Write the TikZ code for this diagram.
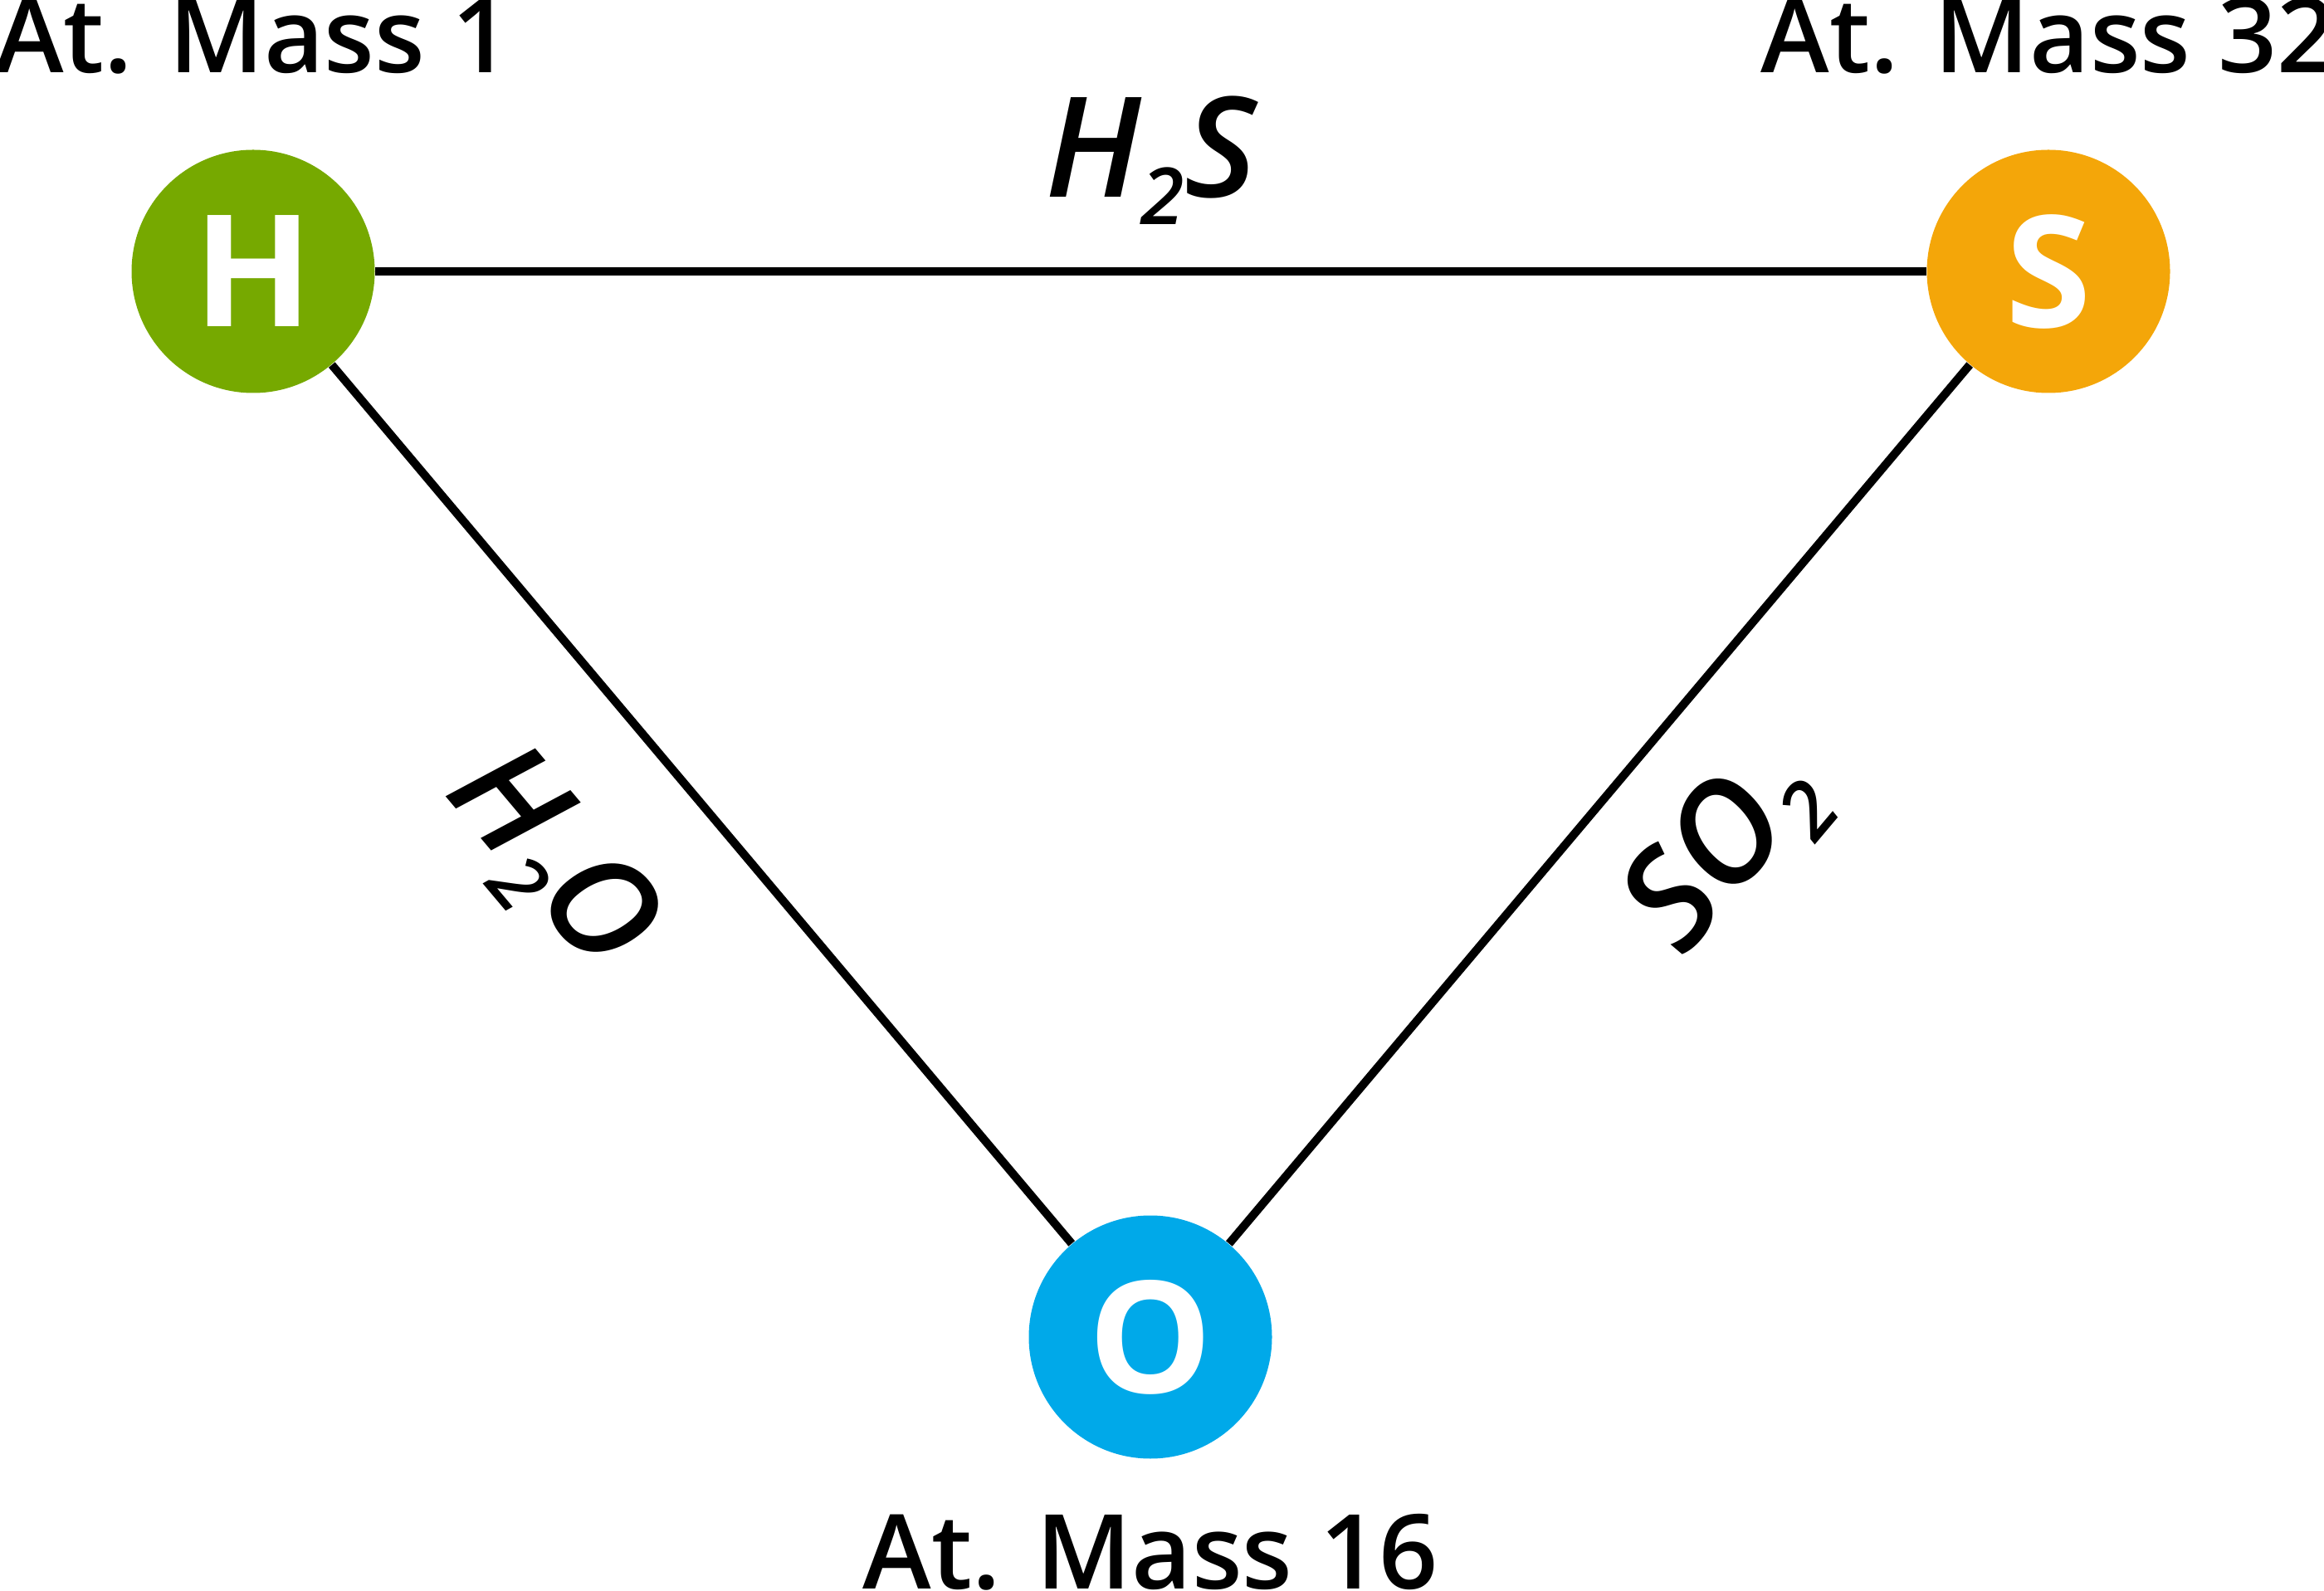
\documentclass[tikz,border=0pt]{standalone}
\usepackage{fontspec}
\setmainfont{Open Sans}
\newfontfamily\semifont{Open Sans Semibold}[ItalicFont={Open Sans Semibold Italic}]
\usetikzlibrary{positioning}
\definecolor{hgreen}{HTML}{76A900}
\definecolor{sorange}{HTML}{F4A609}
\definecolor{oblue}{HTML}{00A9E9}
\newcommand{\lowtwo}{\raisebox{-9.4pt}{\fontsize{27}{30}\selectfont 2}}
\tikzset{
  atom/.style={circle, inner sep=0pt, minimum size=2.93cm, text=white,
    font=\fontsize{53.4}{60}\selectfont\bfseries},
  mass/.style={inner sep=0pt, font=\fontsize{35.5}{40}\selectfont\semifont},
  bondlabel/.style={inner sep=0pt, font=\fontsize{47.8}{54}\selectfont\semifont\itshape},
  bond/.style={line width=0.100000cm}
}
\begin{document}
\begin{tikzpicture}
            \useasboundingbox (0,0) rectangle (28.000000,19.160000);
            
            % Marking atom H
            \draw (3.050000,15.890000) node [atom, fill=hgreen] (H) {H};%
            
            % Marking atom S
            \draw (24.680000,15.890000) node [atom, fill=sorange] (S) {S};%
            
            % Marking atom O
            \draw (13.860000,3.050000) node [atom, fill=oblue] (O) {O};%
            
            % Marking atomic masses
            \node [mass, above=0.895cm of H] (massH) {At. Mass 1};%
            \node [mass, above=0.895cm of S] (massS) {At. Mass 32};%
            \node [mass, below=0.655cm of O] (massO) {At. Mass 16};%
            
            % Drawing line H2S
            \draw [bond] (H) -- (S) node [midway, above=0.51cm, bondlabel] (lHS) {H\lowtwo S};%
            
            % Drawing line H2O
            \draw [bond] (H) -- (O) node [pos=0.452, sloped, below=1.03cm, bondlabel] (lHO) {H\lowtwo O};%
            
            % Drawing line SO2
            \draw [bond] (O) -- (S) node [pos=0.538, sloped, below=0.71cm, bondlabel] (lSO) {SO\lowtwo};%
        \end{tikzpicture}
\end{document}
